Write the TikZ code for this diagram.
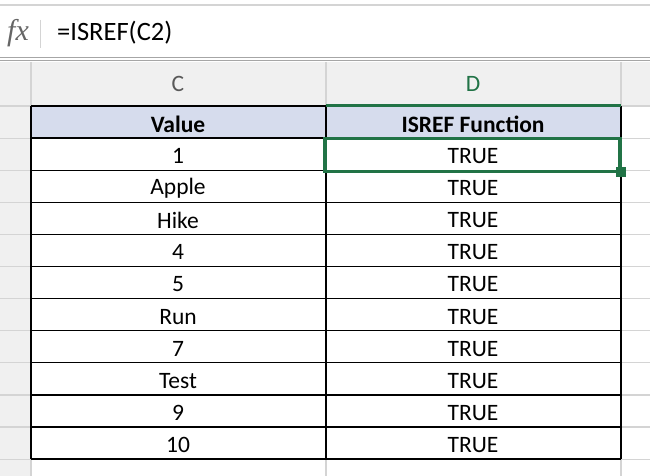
\documentclass[tikz,border=0pt]{standalone}
\usepackage{fontspec}
\setmainfont{Carlito}
\newfontfamily\fxfont{Liberation Serif}
\definecolor{grid}{RGB}{212,212,212}
\definecolor{hdrbg}{RGB}{240,240,240}
\definecolor{xlgreen}{RGB}{33,115,70}
\definecolor{tblhead}{RGB}{214,220,237}
\begin{document}
\begin{tikzpicture}[x=1pt,y=-1pt,
  cell/.style={font=\fontsize{23.5}{26}\selectfont,anchor=center,inner sep=0},
  gl/.style={draw=grid,line width=1.2pt}]
\useasboundingbox (0,0) rectangle (650,476);
\fill[white] (0,0) rectangle (650,476);
% formula bar
\draw[gl] (0,5) -- (650,5);
\node[cell,font=\fxfont\itshape\fontsize{30}{32}\selectfont,text=gray!80!black] (fx) at (18,33) {fx};
\draw[grid,line width=1pt] (40,20) -- (40,48);
\node[cell,anchor=west,font=\fontsize{26.5}{30}\selectfont] (formula) at (57,33) {=ISREF(C2)};
\draw[gray!70,line width=1pt] (0,58) -- (650,58);
\draw[gray!70,line width=1pt] (0,61) -- (650,61);
% column header band
\fill[hdrbg] (0,62) rectangle (650,106);
\fill[hdrbg] (0,106) rectangle (31,476);
\draw[gl] (31,62) -- (31,476);
\draw[gl] (326,62) -- (326,476);
\draw[gl] (621,62) -- (621,476);
\node[cell,text=gray!70!black] (colC) at (178,84) {C};
\node[cell,text=xlgreen] (colD) at (473,84) {D};
\foreach \i in {0,...,11}{
  \draw[gl] (0,106+32.1*\i) -- (650,106+32.1*\i);
}
% table
\fill[tblhead] (31,106) rectangle (621,138.1);
\foreach \i in {0,...,11}{
  \draw[black,line width=1.3pt] (31,106+32.1*\i) -- (621,106+32.1*\i);
}
\draw[black,line width=1.3pt] (31,106) -- (31,459.1);
\draw[black,line width=1.3pt] (326,106) -- (326,459.1);
\draw[black,line width=1.3pt] (621,106) -- (621,459.1);
\node[cell,font=\bfseries\fontsize{23.5}{26}\selectfont] (hv) at (178,124) {Value};
\node[cell,font=\bfseries\fontsize{23.5}{26}\selectfont] (hf) at (473,124) {ISREF Function};
\foreach \v [count=\i] in {1,Apple,Hike,4,5,Run,7,Test,9,10}{
  \node[cell] (v\i) at (178,124+32.1*\i) {\v};
  \node[cell] (f\i) at (473,124+32.1*\i) {TRUE};
}
% selection
\draw[xlgreen,line width=3pt] (326,106) -- (621,106);
\draw[xlgreen,line width=3.2pt] (325,138.1) rectangle (620,171.2);
\fill[xlgreen] (616,167) rectangle (626,177);
\end{tikzpicture}
\end{document}
